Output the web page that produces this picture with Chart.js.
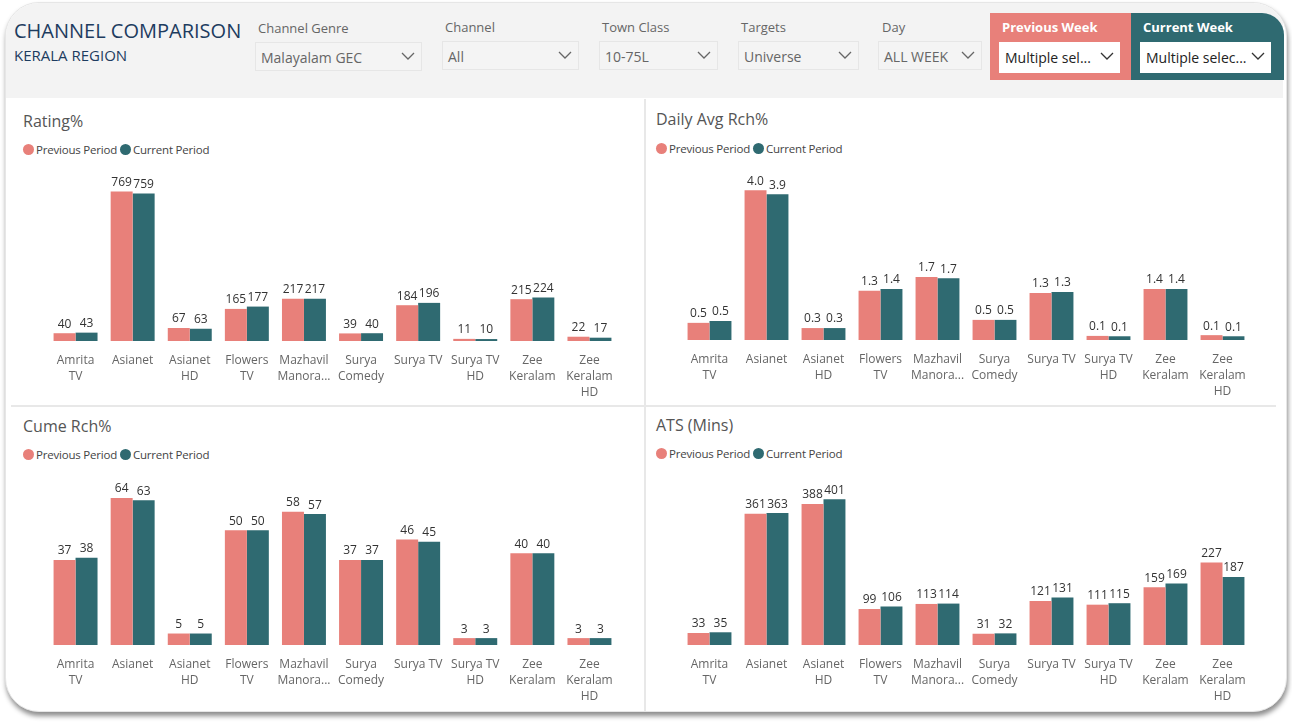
<!DOCTYPE html>
<html>
<head>
<meta charset="utf-8">
<script src="https://cdn.jsdelivr.net/npm/chart.js@4.4.1/dist/chart.umd.min.js"></script>
<style>
  body { margin: 0; background: #fff; font-family: "Open Sans", sans-serif; }
  #card { position: absolute; left: 5px; top: 2px; width: 1282px; height: 710px; background: #fff;
          border-radius: 34px; box-shadow: 1px 4px 5px rgba(0,0,0,0.45); overflow: hidden; border: 1px solid #e6e6e6; box-sizing: border-box; }
  #header { position: absolute; left: 0; top: 0; width: 1277px; height: 95px; background: #f3f3f3; }
  .abs { position: absolute; white-space: nowrap; }
  .slabel { font-size: 13px; color: #666; }
  .slicer { position: absolute; height: 29px; border: 1px solid #e6e6e6; box-sizing: border-box; background: #f4f4f4; }
  .slicer span { position: absolute; left: 5px; top: 5px; font-size: 14px; color: #666; }
  .slicer svg { position: absolute; right: 6px; top: 9px; }
  .wk { position: absolute; top: 10px; height: 67px; }
  .wk .t { position: absolute; left: 12px; top: 5px; font-size: 13px; font-weight: bold; color: #fff; }
  .wk .box { position: absolute; top: 29px; height: 31px; background: #fff; }
  .wk .box span { position: absolute; left: 6px; top: 6px; font-size: 14px; color: #222; }
  .wk .box svg { position: absolute; right: 6px; top: 10px; }
  .ptitle { position: absolute; font-size: 16px; color: #555; }
  .legend { position: absolute; font-size: 11.5px; color: #444; letter-spacing: -0.2px; }
  .legend i { display: inline-block; width: 11px; height: 11px; border-radius: 50%; vertical-align: -1px; margin-right: 2px; }
  canvas { position: absolute; }
  .vline { position: absolute; left: 638px; top: 96px; width: 2px; height: 615px; background: #e8e8e8; }
  .hline { position: absolute; left: 5px; top: 402px; width: 1265px; height: 2px; background: #e8e8e8; }
</style>
</head>
<body>
<div id="card">
  <div id="header"></div>
  <div class="abs" style="left:8px;top:14px;font-size:20px;color:#1d3c5f;">CHANNEL COMPARISON</div>
  <div class="abs" style="left:8px;top:42px;font-size:15px;color:#1d3c5f;">KERALA REGION</div>

  <div class="abs slabel" style="left:252px;top:16px;">Channel Genre</div>
  <div class="slicer" style="left:249px;top:39px;width:167px;"><span>Malayalam GEC</span><svg width="14" height="8"><polyline points="1,1 7,7 13,1" fill="none" stroke="#666" stroke-width="1.3"/></svg></div>
  <div class="abs slabel" style="left:439px;top:15px;">Channel</div>
  <div class="slicer" style="left:436px;top:38px;width:137px;"><span>All</span><svg width="14" height="8"><polyline points="1,1 7,7 13,1" fill="none" stroke="#666" stroke-width="1.3"/></svg></div>
  <div class="abs slabel" style="left:596px;top:15px;">Town Class</div>
  <div class="slicer" style="left:593px;top:38px;width:119px;"><span>10-75L</span><svg width="14" height="8"><polyline points="1,1 7,7 13,1" fill="none" stroke="#666" stroke-width="1.3"/></svg></div>
  <div class="abs slabel" style="left:735px;top:15px;">Targets</div>
  <div class="slicer" style="left:732px;top:38px;width:121px;"><span>Universe</span><svg width="14" height="8"><polyline points="1,1 7,7 13,1" fill="none" stroke="#666" stroke-width="1.3"/></svg></div>
  <div class="abs slabel" style="left:876px;top:15px;">Day</div>
  <div class="slicer" style="left:872px;top:38px;width:104px;"><span>ALL WEEK</span><svg width="14" height="8"><polyline points="1,1 7,7 13,1" fill="none" stroke="#666" stroke-width="1.3"/></svg></div>

  <div class="wk" style="left:984px;width:141px;background:#e8807a;">
    <div class="t">Previous Week</div>
    <div class="box" style="left:9px;width:121px;"><span>Multiple sel...</span><svg width="14" height="8"><polyline points="1,1 7,7 13,1" fill="none" stroke="#333" stroke-width="1.3"/></svg></div>
  </div>
  <div class="wk" style="left:1125px;width:153px;background:#2f6a71;border-top-right-radius:22px;">
    <div class="t">Current Week</div>
    <div class="box" style="left:9px;width:131px;"><span>Multiple selec...</span><svg width="14" height="8"><polyline points="1,1 7,7 13,1" fill="none" stroke="#333" stroke-width="1.3"/></svg></div>
  </div>

  <div class="vline"></div>
  <div class="hline"></div>

  <div class="ptitle" style="left:17px;top:107px;">Rating%</div>
  <div class="legend" style="left:17px;top:139px;"><i style="background:#e8807a"></i>Previous Period <i style="background:#2f6a71"></i>Current Period</div>
  <div class="ptitle" style="left:650px;top:105px;">Daily Avg Rch%</div>
  <div class="legend" style="left:650px;top:138px;"><i style="background:#e8807a"></i>Previous Period <i style="background:#2f6a71"></i>Current Period</div>
  <div class="ptitle" style="left:17px;top:412px;">Cume Rch%</div>
  <div class="legend" style="left:17px;top:444px;"><i style="background:#e8807a"></i>Previous Period <i style="background:#2f6a71"></i>Current Period</div>
  <div class="ptitle" style="left:650px;top:411px;">ATS (Mins)</div>
  <div class="legend" style="left:650px;top:443px;"><i style="background:#e8807a"></i>Previous Period <i style="background:#2f6a71"></i>Current Period</div>

  <canvas id="cRating" width="632" height="252" style="left:5px;top:162px;"></canvas>
  <canvas id="cDaily" width="632" height="252" style="left:640px;top:161px;"></canvas>
  <canvas id="cCume" width="632" height="252" style="left:5px;top:466px;"></canvas>
  <canvas id="cAts" width="632" height="252" style="left:640px;top:466px;"></canvas>
</div>

<script>
// Categorias (canales)
const channels = [
  ['Amrita', 'TV'], 'Asianet', ['Asianet', 'HD'], ['Flowers', 'TV'], ['Mazhavil', 'Manora...'],
  ['Surya', 'Comedy'], 'Surya TV', ['Surya TV', 'HD'], ['Zee', 'Keralam'], ['Zee', 'Keralam', 'HD']
];

// Valores por periodo
const ratingPrev = [40, 769, 67, 165, 217, 39, 184, 11, 215, 22];
const ratingCurr = [43, 759, 63, 177, 217, 40, 196, 10, 224, 17];
const dailyPrev = [0.46, 4.02, 0.32, 1.32, 1.69, 0.54, 1.26, 0.11, 1.37, 0.13];
const dailyCurr = [0.51, 3.91, 0.32, 1.37, 1.66, 0.54, 1.29, 0.10, 1.37, 0.10];
const cumePrev = [37, 64, 5, 50, 58, 37, 46, 3, 40, 3];
const cumeCurr = [38, 63, 5, 50, 57, 37, 45, 3, 40, 3];
const atsPrev = [33, 361, 388, 99, 113, 31, 121, 111, 159, 227];
const atsCurr = [35, 363, 401, 106, 114, 32, 131, 115, 169, 187];

const colorPrev = '#e8807a';
const colorCurr = '#2f6a71';

// Etiquetas de valor encima de cada barra
const valueLabels = {
  id: 'valueLabels',
  afterDatasetsDraw(chart, args, opts) {
    const ctx = chart.ctx;
    ctx.save();
    ctx.font = '12px "Open Sans"';
    ctx.fillStyle = '#333';
    ctx.textAlign = 'center';
    ctx.textBaseline = 'bottom';
    chart.data.datasets.forEach((ds, i) => {
      chart.getDatasetMeta(i).data.forEach((bar, j) => {
        ctx.fillText(ds.data[j].toFixed(opts.decimals || 0), bar.x, bar.y - 3);
      });
    });
    ctx.restore();
  }
};

function crearGrafico(id, prev, curr, decimals, maxFactor, padLeft, padRight) {
  const ctx = document.getElementById(id).getContext('2d');
  return new Chart(ctx, {
    type: 'bar',
    data: {
      labels: channels,
      datasets: [
        { label: 'Previous Period', data: prev, backgroundColor: colorPrev, categoryPercentage: 0.77, barPercentage: 1.0 },
        { label: 'Current Period', data: curr, backgroundColor: colorCurr, categoryPercentage: 0.77, barPercentage: 1.0 }
      ]
    },
    options: {
      responsive: false,
      animation: false,
      layout: { padding: { top: 7, left: padLeft, right: padRight, bottom: 4 } },
      plugins: {
        legend: { display: false },
        tooltip: { enabled: false },
        valueLabels: { decimals: decimals }
      },
      scales: {
        x: {
          grid: { display: false, drawTicks: false },
          border: { display: false },
          ticks: {
            color: '#666',
            font: { family: 'Open Sans', size: 12, lineHeight: '16px' },
            padding: 12,
            autoSkip: false,
            maxRotation: 0
          }
        },
        y: {
          display: false,
          beginAtZero: true,
          max: Math.max(...prev, ...curr) * maxFactor
        }
      }
    },
    plugins: [valueLabels]
  });
}

crearGrafico('cRating', ratingPrev, ratingCurr, 0, 1.13, 36, 25);
crearGrafico('cDaily', dailyPrev, dailyCurr, 1, 1.128, 35, 27);
crearGrafico('cCume', cumePrev, cumeCurr, 0, 1.15, 36, 25);
crearGrafico('cAts', atsPrev, atsCurr, 0, 1.16, 35, 27);
</script>
</body>
</html>
